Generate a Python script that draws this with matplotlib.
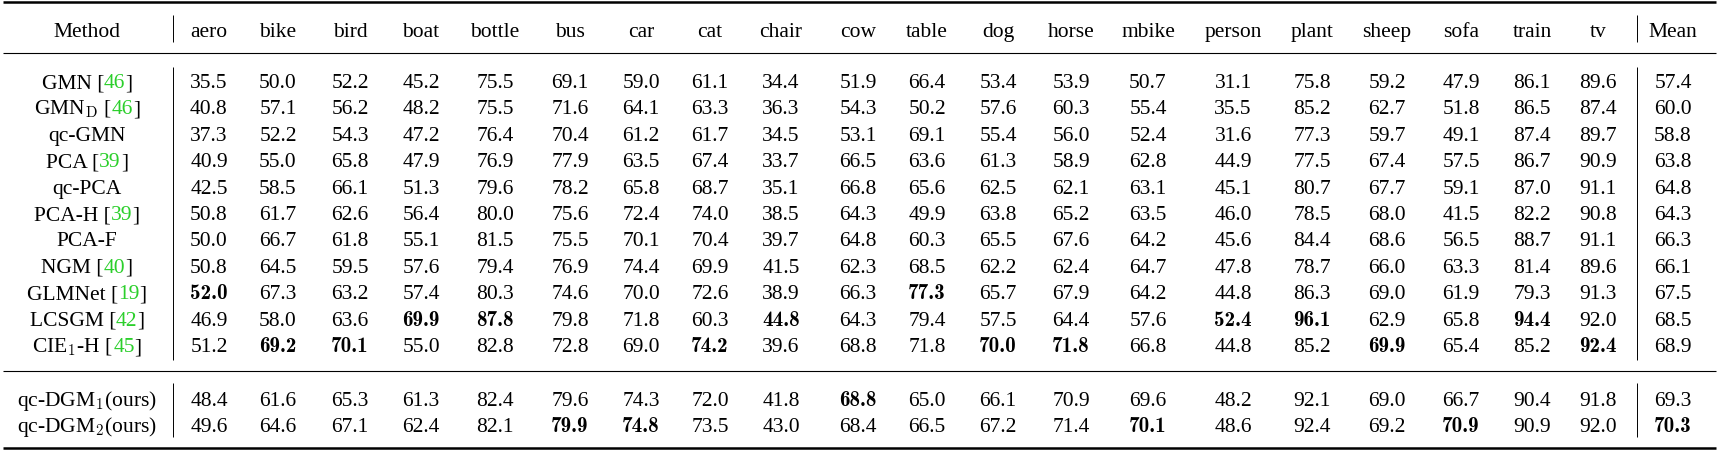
import matplotlib
matplotlib.use("Agg")
import matplotlib.pyplot as plt

plt.rcParams['font.family'] = ['Liberation Serif', 'DejaVu Serif']
plt.rcParams['mathtext.fontset'] = 'cm'

# ---------------- data ----------------
categories = ["aero", "bike", "bird", "boat", "bottle", "bus", "car", "cat", "chair", "cow",
              "table", "dog", "horse", "mbike", "person", "plant", "sheep", "sofa", "train", "tv"]

# method label pieces: (text, is_citation)
method_labels = [
    [("GMN [", 0), ("46", 1), ("]", 0)],
    [(r"GMN$_{\mathrm{D}}$ [", 0), ("46", 1), ("]", 0)],
    [("qc-GMN", 0)],
    [("PCA [", 0), ("39", 1), ("]", 0)],
    [("qc-PCA", 0)],
    [("PCA-H [", 0), ("39", 1), ("]", 0)],
    [("PCA-F", 0)],
    [("NGM [", 0), ("40", 1), ("]", 0)],
    [("GLMNet [", 0), ("19", 1), ("]", 0)],
    [("LCSGM [", 0), ("42", 1), ("]", 0)],
    [(r"CIE$_{1}$-H [", 0), ("45", 1), ("]", 0)],
    [(r"qc-DGM$_{1}$(ours)", 0)],
    [(r"qc-DGM$_{2}$(ours)", 0)],
]

gmn      = [35.5, 50.0, 52.2, 45.2, 75.5, 69.1, 59.0, 61.1, 34.4, 51.9, 66.4, 53.4, 53.9, 50.7, 31.1, 75.8, 59.2, 47.9, 86.1, 89.6]
gmn_d    = [40.8, 57.1, 56.2, 48.2, 75.5, 71.6, 64.1, 63.3, 36.3, 54.3, 50.2, 57.6, 60.3, 55.4, 35.5, 85.2, 62.7, 51.8, 86.5, 87.4]
qc_gmn   = [37.3, 52.2, 54.3, 47.2, 76.4, 70.4, 61.2, 61.7, 34.5, 53.1, 69.1, 55.4, 56.0, 52.4, 31.6, 77.3, 59.7, 49.1, 87.4, 89.7]
pca      = [40.9, 55.0, 65.8, 47.9, 76.9, 77.9, 63.5, 67.4, 33.7, 66.5, 63.6, 61.3, 58.9, 62.8, 44.9, 77.5, 67.4, 57.5, 86.7, 90.9]
qc_pca   = [42.5, 58.5, 66.1, 51.3, 79.6, 78.2, 65.8, 68.7, 35.1, 66.8, 65.6, 62.5, 62.1, 63.1, 45.1, 80.7, 67.7, 59.1, 87.0, 91.1]
pca_h    = [50.8, 61.7, 62.6, 56.4, 80.0, 75.6, 72.4, 74.0, 38.5, 64.3, 49.9, 63.8, 65.2, 63.5, 46.0, 78.5, 68.0, 41.5, 82.2, 90.8]
pca_f    = [50.0, 66.7, 61.8, 55.1, 81.5, 75.5, 70.1, 70.4, 39.7, 64.8, 60.3, 65.5, 67.6, 64.2, 45.6, 84.4, 68.6, 56.5, 88.7, 91.1]
ngm      = [50.8, 64.5, 59.5, 57.6, 79.4, 76.9, 74.4, 69.9, 41.5, 62.3, 68.5, 62.2, 62.4, 64.7, 47.8, 78.7, 66.0, 63.3, 81.4, 89.6]
glmnet   = [52.0, 67.3, 63.2, 57.4, 80.3, 74.6, 70.0, 72.6, 38.9, 66.3, 77.3, 65.7, 67.9, 64.2, 44.8, 86.3, 69.0, 61.9, 79.3, 91.3]
lcsgm    = [46.9, 58.0, 63.6, 69.9, 87.8, 79.8, 71.8, 60.3, 44.8, 64.3, 79.4, 57.5, 64.4, 57.6, 52.4, 96.1, 62.9, 65.8, 94.4, 92.0]
cie1_h   = [51.2, 69.2, 70.1, 55.0, 82.8, 72.8, 69.0, 74.2, 39.6, 68.8, 71.8, 70.0, 71.8, 66.8, 44.8, 85.2, 69.9, 65.4, 85.2, 92.4]
qc_dgm1  = [48.4, 61.6, 65.3, 61.3, 82.4, 79.6, 74.3, 72.0, 41.8, 68.8, 65.0, 66.1, 70.9, 69.6, 48.2, 92.1, 69.0, 66.7, 90.4, 91.8]
qc_dgm2  = [49.6, 64.6, 67.1, 62.4, 82.1, 79.9, 74.8, 73.5, 43.0, 68.4, 66.5, 67.2, 71.4, 70.1, 48.6, 92.4, 69.2, 70.9, 90.9, 92.0]

mean_values = [57.4, 60.0, 58.8, 63.8, 64.8, 64.3, 66.3, 66.1, 67.5, 68.5, 68.9, 69.3, 70.3]

# bold cells: (row, column); column 20 = Mean
bold_cells = [
    (8, 0), (10, 1), (10, 2), (9, 3), (9, 4), (12, 5), (12, 6), (10, 7), (9, 8), (11, 9),
    (8, 10), (10, 11), (10, 12), (12, 13), (9, 14), (9, 15), (10, 16), (12, 17),
    (9, 18), (10, 19), (12, 20)]

rows = [gmn, gmn_d, qc_gmn, pca, qc_pca, pca_h, pca_f, ngm, glmnet, lcsgm, cie1_h, qc_dgm1, qc_dgm2]

# ---------------- layout (pixel coordinates) ----------------
W, H = 1720, 454
fig = plt.figure(figsize=(W / 100, H / 100), dpi=100)
ax = fig.add_axes([0, 0, 1, 1])
ax.set_xlim(0, W)
ax.set_ylim(H, 0)
ax.axis('off')

FS = 15.5
GREEN = '#2bcf2b'
method_x = 87
col_x = [209, 278, 350, 421, 495, 570, 641, 710, 781, 858,
         927, 998, 1071, 1148, 1233, 1312, 1387, 1461, 1532, 1598]
mean_x = 1673
vline_x = [173, 1637]

header_y = 37
row_y = [88 + 26.4 * i for i in range(11)] + [406, 432]

# rules
x0, x1 = 3, 1716
ax.plot([x0, x1], [2, 2], color='black', lw=1.8, solid_capstyle='butt')
ax.plot([x0, x1], [53, 53], color='black', lw=0.8, solid_capstyle='butt')
ax.plot([x0, x1], [371, 371], color='black', lw=0.8, solid_capstyle='butt')
ax.plot([x0, x1], [448, 448], color='black', lw=1.8, solid_capstyle='butt')

for vx in vline_x:
    for (ya, yb) in [(15, 42), (67, 360), (383, 437)]:
        ax.plot([vx, vx], [ya, yb], color='black', lw=0.7, solid_capstyle='butt')

# header
ax.text(method_x, header_y, "Method", ha='center', va='baseline', fontsize=FS)
for cx, name in zip(col_x, categories):
    ax.text(cx, header_y, name, ha='center', va='baseline', fontsize=FS)
ax.text(mean_x, header_y, "Mean", ha='center', va='baseline', fontsize=FS)

renderer = fig.canvas.get_renderer()


def mixed_text(cx, y, pieces):
    objs = []
    widths = []
    for txt, cite in pieces:
        t = ax.text(0, y, txt, ha='left', va='baseline', fontsize=FS,
                    color=GREEN if cite else 'black')
        bb = t.get_window_extent(renderer)
        objs.append(t)
        widths.append(bb.width)
    total = sum(widths)
    x = cx - total / 2
    for t, w in zip(objs, widths):
        t.set_x(x)
        x += w


def value_text(cx, y, v, bold):
    s = f"{v:.1f}"
    if bold:
        ax.text(cx, y, s, ha='center', va='baseline', fontsize=FS - 0.3,
                family=['cmb10', 'DejaVu Serif'])
    else:
        ax.text(cx, y, s, ha='center', va='baseline', fontsize=FS)


bold_set = set(bold_cells)
for r, (label, vals) in enumerate(zip(method_labels, rows)):
    y = row_y[r]
    mixed_text(method_x, y, label)
    for c, (cx, v) in enumerate(zip(col_x, vals)):
        value_text(cx, y, v, (r, c) in bold_set)
    value_text(mean_x, y, mean_values[r], (r, 20) in bold_set)

fig.savefig("out.png", dpi=100)
